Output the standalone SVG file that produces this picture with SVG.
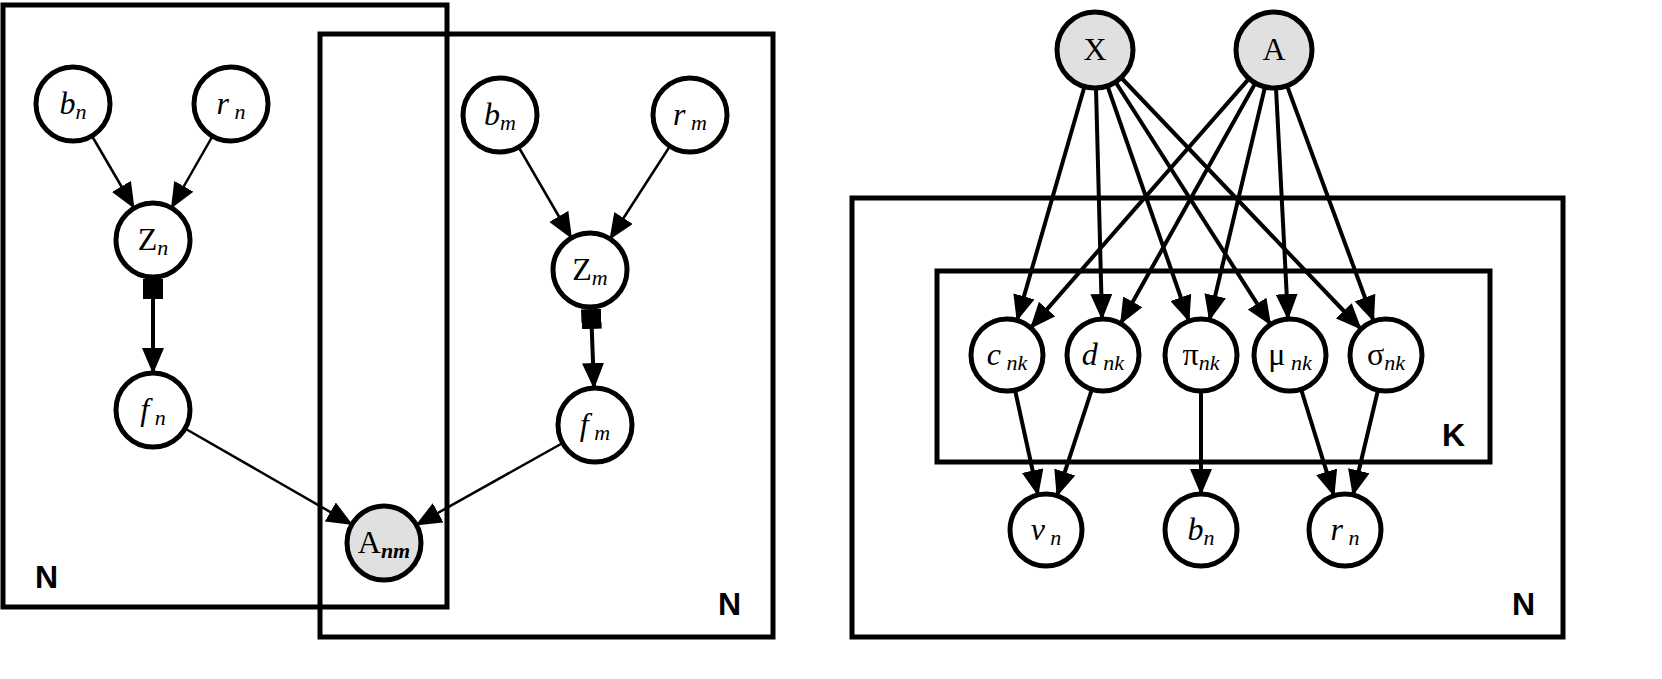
<svg xmlns="http://www.w3.org/2000/svg" width="1662" height="679" viewBox="0 0 1662 679">
<style>
.plate{fill:none;stroke:#000;stroke-width:5}
.n{fill:#fff;stroke:#000;stroke-width:5}
.g{fill:#e0e0e0;stroke:#000;stroke-width:5}
.e{stroke:#000;stroke-width:2.5;fill:none;marker-end:url(#ar)}
.e2{stroke:#000;stroke-width:4;fill:none;marker-end:url(#ar)}
.t{font-family:"Liberation Serif",serif;font-size:32px;text-anchor:middle}
.s{font-size:22px;font-style:italic}
.pl{font-family:"Liberation Sans",sans-serif;font-weight:bold;font-size:32px}
</style>
<defs>
<marker id="ar" markerUnits="userSpaceOnUse" markerWidth="26" markerHeight="22" viewBox="0 0 26 22" refX="25" refY="11" orient="auto"><path d="M0,0 L26,11 L0,22 z"/></marker>
<marker id="sq" markerUnits="userSpaceOnUse" markerWidth="20" markerHeight="20" viewBox="0 0 20 20" refX="0" refY="10" orient="auto"><rect x="0" y="0" width="20" height="20"/></marker>
</defs>
<g id="plates">
<rect class="plate" x="3" y="5" width="444" height="602"/>
<rect class="plate" x="320" y="34" width="453" height="603"/>
<rect class="plate" x="852" y="198" width="711" height="439"/>
<rect class="plate" x="937" y="271" width="553" height="191"/>
<text class="pl" x="35" y="588">N</text>
<text class="pl" x="718" y="615">N</text>
<text class="pl" x="1442" y="446">K</text>
<text class="pl" x="1512" y="615">N</text>
</g>
<g id="connectors">
<line class="e" x1="92" y1="136" x2="134" y2="208"/>
<line class="e" x1="212.6" y1="136" x2="171.4" y2="208"/>
<line class="e2" x1="153" y1="279" x2="153" y2="373" marker-start="url(#sq)"/>
<line class="e" x1="185" y1="428.5" x2="352" y2="524.5"/>
<line class="e" x1="518.6" y1="147" x2="571.4" y2="238"/>
<line class="e" x1="670" y1="146" x2="610" y2="239"/>
<line class="e2" x1="591" y1="309" x2="594" y2="388" marker-start="url(#sq)"/>
<line class="e" x1="562.7" y1="443" x2="416.3" y2="525"/>
<line class="e2" x1="1084.5" y1="86.5" x2="1017" y2="320.4"/>
<line class="e2" x1="1096" y1="88" x2="1102" y2="319"/>
<line class="e2" x1="1107.5" y1="86" x2="1189" y2="321"/>
<line class="e2" x1="1115.5" y1="82" x2="1270.6" y2="324.7"/>
<line class="e2" x1="1121" y1="77.5" x2="1361" y2="329"/>
<line class="e2" x1="1249" y1="78.6" x2="1030.7" y2="327.9"/>
<line class="e2" x1="1255.4" y1="83" x2="1120.6" y2="323.6"/>
<line class="e2" x1="1265" y1="87" x2="1209.4" y2="320"/>
<line class="e2" x1="1276" y1="88" x2="1288" y2="319"/>
<line class="e2" x1="1287" y1="85.6" x2="1373.6" y2="321"/>
<line class="e2" x1="1015" y1="390" x2="1038" y2="495"/>
<line class="e2" x1="1092" y1="389" x2="1057" y2="495.8"/>
<line class="e2" x1="1201" y1="391" x2="1201" y2="494"/>
<line class="e2" x1="1301" y1="389" x2="1334" y2="495.7"/>
<line class="e2" x1="1378" y1="390" x2="1353" y2="495"/>
</g>
<g id="bn"><circle class="n" cx="73" cy="104" r="37"/><text class="t" x="73" y="114"><tspan font-style="italic">b</tspan><tspan class="s" dy="5">n</tspan></text></g>
<g id="rn"><circle class="n" cx="231" cy="104" r="37"/><text class="t" x="231" y="114"><tspan font-style="italic">r</tspan><tspan class="s" dy="5"> n</tspan></text></g>
<g id="Zn"><circle class="n" cx="153" cy="240" r="37"/><text class="t" x="153" y="250">Z<tspan class="s" dy="5">n</tspan></text></g>
<g id="fn"><circle class="n" cx="153" cy="410" r="37"/><text class="t" x="153" y="420"><tspan font-style="italic">f</tspan><tspan class="s" dy="5"> n</tspan></text></g>
<g id="Anm"><circle class="g" cx="384" cy="543" r="37"/><text class="t" x="384" y="553">A<tspan class="s" dy="5" font-weight="bold">nm</tspan></text></g>
<g id="bm"><circle class="n" cx="500" cy="115" r="37"/><text class="t" x="500" y="125"><tspan font-style="italic">b</tspan><tspan class="s" dy="5">m</tspan></text></g>
<g id="rm"><circle class="n" cx="690" cy="115" r="37"/><text class="t" x="690" y="125"><tspan font-style="italic">r</tspan><tspan class="s" dy="5"> m</tspan></text></g>
<g id="Zm"><circle class="n" cx="590" cy="270" r="37"/><text class="t" x="590" y="280">Z<tspan class="s" dy="5">m</tspan></text></g>
<g id="fm"><circle class="n" cx="595" cy="425" r="37"/><text class="t" x="595" y="435"><tspan font-style="italic">f</tspan><tspan class="s" dy="5"> m</tspan></text></g>
<g id="X"><circle class="g" cx="1095" cy="50" r="38"/><text class="t" x="1095" y="60">X</text></g>
<g id="A"><circle class="g" cx="1274" cy="50" r="38"/><text class="t" x="1274" y="60">A</text></g>
<g id="cnk"><circle class="n" cx="1007" cy="355" r="36"/><text class="t" x="1007" y="365"><tspan font-style="italic">c</tspan><tspan class="s" dy="5"> nk</tspan></text></g>
<g id="dnk"><circle class="n" cx="1103" cy="355" r="36"/><text class="t" x="1103" y="365"><tspan font-style="italic">d</tspan><tspan class="s" dy="5"> nk</tspan></text></g>
<g id="pnk"><circle class="n" cx="1201" cy="355" r="36"/><text class="t" x="1201" y="365">π<tspan class="s" dy="5">nk</tspan></text></g>
<g id="mnk"><circle class="n" cx="1290" cy="355" r="36"/><text class="t" x="1290" y="365">μ<tspan class="s" dy="5"> nk</tspan></text></g>
<g id="snk"><circle class="n" cx="1386" cy="355" r="36"/><text class="t" x="1386" y="365">σ<tspan class="s" dy="5">nk</tspan></text></g>
<g id="vn"><circle class="n" cx="1046" cy="530" r="36"/><text class="t" x="1046" y="540"><tspan font-style="italic">v</tspan><tspan class="s" dy="5"> n</tspan></text></g>
<g id="bn2"><circle class="n" cx="1201" cy="530" r="36"/><text class="t" x="1201" y="540"><tspan font-style="italic">b</tspan><tspan class="s" dy="5">n</tspan></text></g>
<g id="rn2"><circle class="n" cx="1345" cy="530" r="36"/><text class="t" x="1345" y="540"><tspan font-style="italic">r</tspan><tspan class="s" dy="5"> n</tspan></text></g>
</svg>
